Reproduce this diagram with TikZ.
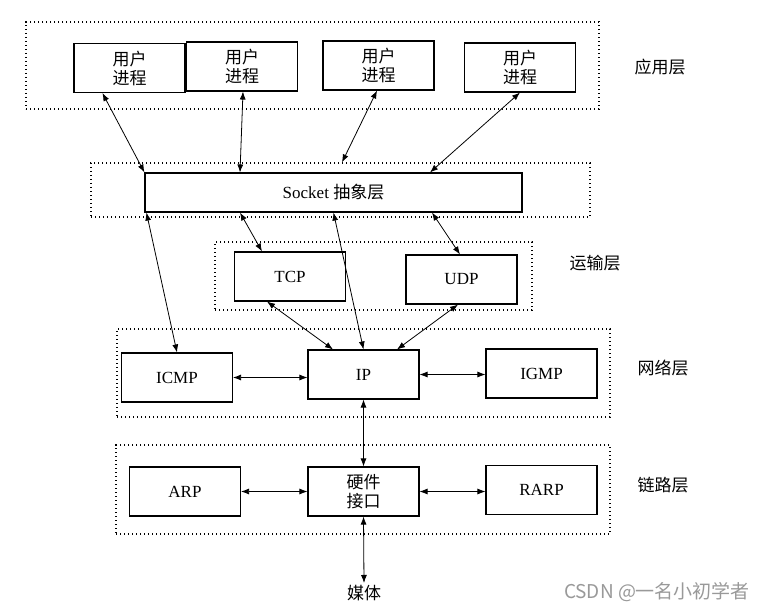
\documentclass[tikz,border=0pt]{standalone}
\usepackage{fontspec}
\setmainfont{Liberation Serif}
\newfontfamily\cjk{Noto Sans CJK SC}
\usetikzlibrary{arrows.meta}
\definecolor{MarkGray}{gray}{0.6}

\begin{document}
\begin{tikzpicture}[x=1pt, y=-1pt,
	procbox/.style={draw, line width=1.1pt, minimum width=111, minimum height=49, align=center, inner sep=0pt, font=\fontsize{17}{19}\selectfont},
	cjkbox/.style={procbox, font=\cjk\fontsize{17}{19}\selectfont},
	layerbox/.style={draw, line width=1.2pt, dash pattern=on 1.3pt off 2.7pt, inner sep=0pt},
	conn/.style={{Latex[length=8pt,width=6pt]}-{Latex[length=8pt,width=6pt]}, line width=0.8pt},
	tag/.style={font=\cjk\fontsize{17}{19}\selectfont, inner sep=2pt}]
				\useasboundingbox (0,0) rectangle (769,611);

				% layers (dotted)
				\node[layerbox, minimum width=573, minimum height=87] (applayer) at (312.5,65.5) {};
				\node[layerbox, minimum width=499, minimum height=54] (socklayer) at (340.5,190) {};
				\node[layerbox, minimum width=317, minimum height=68] (translayer) at (373.5,276) {};
				\node[layerbox, minimum width=493, minimum height=88] (netlayer) at (363.5,373) {};
				\node[layerbox, minimum width=494, minimum height=89] (linklayer) at (363,489.5) {};

				% user processes
				\node[cjkbox] (proc1) at (129.5,68) {用户\\进程};
				\node[cjkbox] (proc2) at (242,66.5) {用户\\进程};
				\node[cjkbox] (proc3) at (378.5,65.5) {用户\\进程};
				\node[cjkbox] (proc4) at (520,67.5) {用户\\进程};

				% socket
				\node[procbox, minimum width=377, minimum height=39] (socket) at (333.5,192.5) {Socket {\cjk 抽象层}};

				% transport
				\node[procbox] (tcp) at (290,276.5) {TCP};
				\node[procbox] (udp) at (461.5,279.5) {UDP};

				% network
				\node[procbox] (icmp) at (177,377.5) {ICMP};
				\node[procbox] (ip) at (363.5,374.5) {IP};
				\node[procbox] (igmp) at (541.5,373.5) {IGMP};

				% link
				\node[procbox] (arp) at (185,491.5) {ARP};
				\node[cjkbox] (hw) at (363.5,491.5) {硬件\\接口};
				\node[procbox] (rarp) at (541.5,490) {RARP};

				\node[tag] (media) at (364,593) {媒体};

				% layer names
				\node[tag] (appname) at (660,67) {应用层};
				\node[tag] (transname) at (595,263) {运输层};
				\node[tag] (netname) at (663,368) {网络层};
				\node[tag] (linkname) at (663,485) {链路层};

				\node[font=\cjk\fontsize{19}{21}\selectfont, text=MarkGray] (mark) at (657,592) {CSDN @一名小初学者};

				% processes - socket
				\draw[conn] ([xshift=29]proc1.south west) -- (socket.north west);
				\draw[conn] ([xshift=1]proc2.south) -- ([xshift=-93.5]socket.north);
				\draw[conn] ([xshift=-1.5]proc3.south) -- ([xshift=1.5]socklayer.north);
				\draw[conn] (proc4.south) -- ([xshift=96.5]socket.north);

				% socket - lower layers
				\draw[conn] ([xshift=2]socket.south west) -- (icmp.north);
				\draw[conn] ([xshift=-93.5]socket.south) -- ([xshift=-28]tcp.north);
				\draw[conn] (socket.south) -- (ip.north);
				\draw[conn] ([xshift=98.5]socket.south) -- ([xshift=-1.5]udp.north);

				% transport - ip
				\draw[conn] ([xshift=-23]tcp.south) -- ([xshift=-30.5]ip.north);
				\draw[conn] ([xshift=-3.5]udp.south) -- ([xshift=33.5]ip.north);

				% network
				\draw[conn] (icmp.east) -- (icmp.east -| ip.west);
				\draw[conn] (ip.east) -- (ip.east -| igmp.west);
				\draw[conn] (ip.south) -- (hw.north);

				% link
				\draw[conn] (arp.east) -- (hw.west);
				\draw[conn] (hw.east) -- (hw.east -| rarp.west);
				\draw[conn] (hw.south) -- (media.north);
			\end{tikzpicture}
\end{document}
